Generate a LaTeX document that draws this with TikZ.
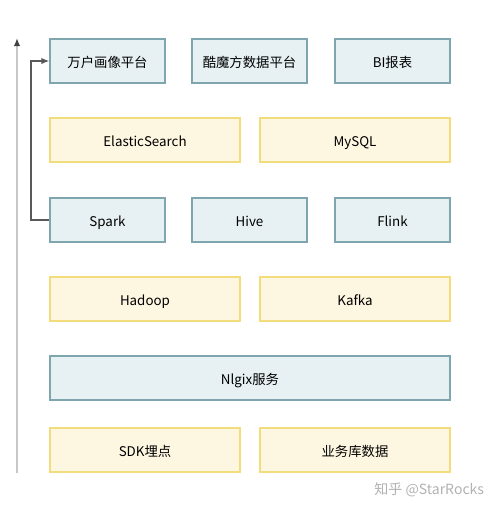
\documentclass[tikz,border=0pt]{standalone}
\usepackage{fontspec}
\setmainfont{Noto Sans CJK SC}
\usepackage{xcolor}
\usetikzlibrary{arrows.meta}

\definecolor{bluefill}{HTML}{E7F1F4}
\definecolor{blueline}{HTML}{7FA5AE}
\definecolor{yellowfill}{HTML}{FDF6E1}
\definecolor{yellowline}{HTML}{F2DC7C}

\tikzset{
  box/.style={draw,line width=0.35mm,inner sep=0pt,minimum height=11mm,
    text height=0.98em,text depth=0.08em,
    font=\fontsize{9.5}{11}\selectfont},
  bluebox/.style={box,draw=blueline,fill=bluefill},
  yellowbox/.style={box,draw=yellowline,fill=yellowfill},
  small/.style={minimum width=28.75mm},
  mid/.style={minimum width=47.5mm},
  full/.style={minimum width=100mm}
}

\begin{document}
\begin{tikzpicture}[x=0.25mm,y=-0.25mm]
\useasboundingbox (0,0) rectangle (500,512);

% applications
\node [bluebox,small] (wanhu) at (107.5,61) {万户画像平台};
\node [bluebox,small] (kumo) at (249.5,61) {酷魔方数据平台};
\node [bluebox,small] (bi) at (392.5,61) {BI报表};

% storage
\node [yellowbox,mid] (es) at (145,140) {ElasticSearch};
\node [yellowbox,mid] (mysql) at (355,140) {MySQL};

% compute
\node [bluebox,small] (spark) at (107.5,220) {Spark};
\node [bluebox,small] (hive) at (249.5,220) {Hive};
\node [bluebox,small] (flink) at (392.5,220) {Flink};

% hadoop / kafka
\node [yellowbox,mid] (hadoop) at (145,299) {Hadoop};
\node [yellowbox,mid] (kafka) at (355,299) {Kafka};

% nginx
\node [bluebox,full] (nginx) at (250,378) {Nlgix服务};

% sources
\node [yellowbox,mid] (sdk) at (145,450) {SDK埋点};
\node [yellowbox,mid] (db) at (355,450) {业务库数据};

% arrows
\coordinate (bottom) at (17,473);
\coordinate (top) at (17,38);
\draw [line width=0.5mm,color=black!22,-{Latex[length=2mm,width=1.6mm,color=black!75]}] (bottom) -- (top);
\draw [black!65,line width=0.3mm,-{Latex[length=2mm,width=1.6mm]}] (spark.west) -| (31,61) -- (wanhu.west);

\node [anchor=east,text=black!30,font=\fontsize{10}{12}\selectfont] (mark) at (489,490) {知乎 @StarRocks};
\end{tikzpicture}
\end{document}
